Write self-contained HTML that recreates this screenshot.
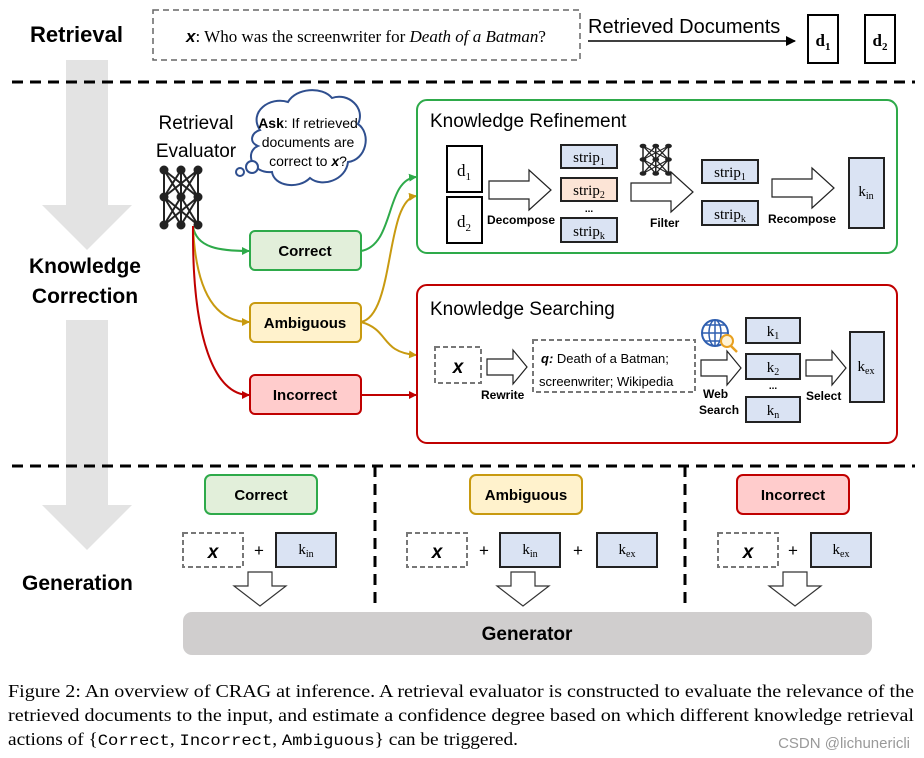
<!DOCTYPE html>
<html><head><meta charset="utf-8"><style>
body{margin:0;background:#fff;}
svg{display:block;font-family:"Liberation Sans",sans-serif;}
.s{font-family:"Liberation Serif",serif;}
</style></head><body>
<svg width="924" height="758" viewBox="0 0 924 758" xmlns="http://www.w3.org/2000/svg">
<defs>
<marker id="ag" markerWidth="8" markerHeight="8" refX="7" refY="4" orient="auto" markerUnits="userSpaceOnUse"><path d="M0,0 L8,4 L0,8 z" fill="#2eaa4a"/></marker>
<marker id="ay" markerWidth="8" markerHeight="8" refX="7" refY="4" orient="auto" markerUnits="userSpaceOnUse"><path d="M0,0 L8,4 L0,8 z" fill="#c89a10"/></marker>
<marker id="ar" markerWidth="8" markerHeight="8" refX="7" refY="4" orient="auto" markerUnits="userSpaceOnUse"><path d="M0,0 L8,4 L0,8 z" fill="#c00000"/></marker>
<marker id="ak" markerWidth="10" markerHeight="10" refX="9" refY="5" orient="auto" markerUnits="userSpaceOnUse"><path d="M0,0 L10,5 L0,10 z" fill="#000"/></marker>
<g id="harrow"><path d="M0,-9 L40,-9 L40,-20 L62,0 L40,20 L40,9 L0,9 z" fill="#fff" stroke="#222" stroke-width="1.2"/></g>
<g id="sarrow"><path d="M0,-8 L26,-8 L26,-17 L40,0 L26,17 L26,8 L0,8 z" fill="#fff" stroke="#222" stroke-width="1.2"/></g>
<g id="darrow"><path d="M-12,0 L12,0 L12,14 L26,14 L0,34 L-26,14 L-12,14 z" fill="#fff" stroke="#333" stroke-width="1.2"/></g>
<g id="net" stroke="#222" stroke-width="2" fill="#222">
<path d="M0,0 L0,55 M17,0 L17,55 M34,0 L34,55 M0,0 L17,27 L34,0 M0,0 L34,27 M34,0 L0,27 M0,27 L17,55 L34,27 M0,27 L34,55 M34,27 L0,55 M17,0 L0,27 M17,0 L34,27 M0,55 L17,27 L34,55" fill="none"/>
<circle cx="0" cy="0" r="3.5"/><circle cx="17" cy="0" r="3.5"/><circle cx="34" cy="0" r="3.5"/>
<circle cx="0" cy="27" r="3.5"/><circle cx="17" cy="27" r="3.5"/><circle cx="34" cy="27" r="3.5"/>
<circle cx="0" cy="55" r="3.5"/><circle cx="17" cy="55" r="3.5"/><circle cx="34" cy="55" r="3.5"/>
</g>
</defs>

<path d="M66,60 L108,60 L108,205 L132,205 L87,250 L42,205 L66,205 z" fill="#e3e3e3"/>
<path d="M66,320 L108,320 L108,505 L132,505 L87,550 L42,505 L66,505 z" fill="#e3e3e3"/>

<text x="30" y="42" font-size="22" font-weight="bold">Retrieval</text>
<text x="85" y="273" font-size="21" font-weight="bold" text-anchor="middle">Knowledge</text>
<text x="85" y="303" font-size="21" font-weight="bold" text-anchor="middle">Correction</text>
<text x="22" y="590" font-size="21" font-weight="bold">Generation</text>

<rect x="153" y="10" width="427" height="50" fill="#fff" stroke="#666" stroke-width="1.5" stroke-dasharray="6,4"/>
<text x="366" y="42" font-size="17" text-anchor="middle" class="s"><tspan font-weight="bold" font-style="italic" font-family="Liberation Sans">x</tspan>: Who was the screenwriter for <tspan font-style="italic">Death of a Batman</tspan>?</text>
<text x="588" y="33" font-size="20">Retrieved Documents</text>
<line x1="588" y1="41" x2="795" y2="41" stroke="#000" stroke-width="1.5" marker-end="url(#ak)"/>
<rect x="808" y="15" width="30" height="48" fill="#fff" stroke="#000" stroke-width="2"/>
<text x="823" y="46" font-size="17" font-weight="bold" text-anchor="middle" class="s">d<tspan font-size="11" dy="4">1</tspan></text>
<rect x="865" y="15" width="30" height="48" fill="#fff" stroke="#000" stroke-width="2"/>
<text x="880" y="46" font-size="17" font-weight="bold" text-anchor="middle" class="s">d<tspan font-size="11" dy="4">2</tspan></text>

<line x1="12" y1="82" x2="915" y2="82" stroke="#000" stroke-width="3" stroke-dasharray="11,7"/>
<line x1="12" y1="466" x2="915" y2="466" stroke="#000" stroke-width="3" stroke-dasharray="11,7"/>
<line x1="375" y1="466" x2="375" y2="610" stroke="#000" stroke-width="3" stroke-dasharray="11,7"/>
<line x1="685" y1="466" x2="685" y2="610" stroke="#000" stroke-width="3" stroke-dasharray="11,7"/>

<text x="196" y="129" font-size="19" text-anchor="middle">Retrieval</text>
<text x="196" y="157" font-size="19" text-anchor="middle">Evaluator</text>
<use href="#net" x="164" y="170"/>

<g transform="translate(30,0)">
<path d="M230,130 C218,112 240,96 258,102 C266,88 292,86 302,98 C318,92 336,108 328,124 C342,134 336,160 318,162 C316,180 292,188 280,178 C268,190 244,186 242,172 C222,174 214,152 228,146 C218,142 222,132 230,130 z" fill="#fff" stroke="#2f4f8f" stroke-width="2"/>
<circle cx="222" cy="167" r="6" fill="#fff" stroke="#2f4f8f" stroke-width="2"/>
<circle cx="210" cy="172" r="4" fill="#fff" stroke="#2f4f8f" stroke-width="2"/>
<text x="278" y="128" font-size="14" text-anchor="middle"><tspan font-weight="bold">Ask</tspan>: If retrieved</text>
<text x="278" y="147" font-size="14" text-anchor="middle">documents are</text>
<text x="278" y="166" font-size="14" text-anchor="middle">correct to <tspan font-weight="bold" font-style="italic">x</tspan>?</text>
</g>

<path d="M193,226 C196,248 220,251 249,251" fill="none" stroke="#2eaa4a" stroke-width="2" marker-end="url(#ag)"/>
<path d="M193,226 C196,300 220,322 249,322" fill="none" stroke="#c89a10" stroke-width="2" marker-end="url(#ay)"/>
<path d="M193,226 C192,340 215,395 249,395" fill="none" stroke="#c00000" stroke-width="2" marker-end="url(#ar)"/>
<path d="M361,251 C395,245 385,180 416,177" fill="none" stroke="#2eaa4a" stroke-width="2" marker-end="url(#ag)"/>
<path d="M361,322 C395,315 385,200 416,196" fill="none" stroke="#c89a10" stroke-width="2" marker-end="url(#ay)"/>
<path d="M361,322 C390,330 380,352 416,355" fill="none" stroke="#c89a10" stroke-width="2" marker-end="url(#ay)"/>
<path d="M361,395 L416,395" fill="none" stroke="#c00000" stroke-width="2" marker-end="url(#ar)"/>

<rect x="250" y="231" width="111" height="39" rx="5" fill="#e2efda" stroke="#2eaa4a" stroke-width="2"/>
<text x="305" y="256" font-size="15" font-weight="bold" text-anchor="middle">Correct</text>
<rect x="250" y="303" width="111" height="39" rx="5" fill="#fff2cc" stroke="#c89a10" stroke-width="2"/>
<text x="305" y="328" font-size="15" font-weight="bold" text-anchor="middle">Ambiguous</text>
<rect x="250" y="375" width="111" height="39" rx="5" fill="#ffcccc" stroke="#c00000" stroke-width="2"/>
<text x="305" y="400" font-size="15" font-weight="bold" text-anchor="middle">Incorrect</text>

<rect x="417" y="100" width="480" height="153" rx="10" fill="none" stroke="#2eaa4a" stroke-width="2"/>
<text x="430" y="127" font-size="19">Knowledge Refinement</text>
<rect x="447" y="146" width="35" height="46" fill="#fff" stroke="#000" stroke-width="2"/>
<text x="464" y="176" font-size="17" text-anchor="middle" class="s">d<tspan font-size="11" dy="4">1</tspan></text>
<rect x="447" y="197" width="35" height="46" fill="#fff" stroke="#000" stroke-width="2"/>
<text x="464" y="227" font-size="17" text-anchor="middle" class="s">d<tspan font-size="11" dy="4">2</tspan></text>
<use href="#harrow" x="489" y="190"/>
<text x="487" y="224" font-size="12" font-weight="bold">Decompose</text>
<rect x="561" y="145" width="56" height="23" fill="#dae3f3" stroke="#222" stroke-width="2"/>
<text x="589" y="162" font-size="15" text-anchor="middle" class="s">strip<tspan font-size="10" dy="3">1</tspan></text>
<rect x="561" y="178" width="56" height="23" fill="#fce4d6" stroke="#222" stroke-width="2"/>
<text x="589" y="195" font-size="15" text-anchor="middle" class="s">strip<tspan font-size="10" dy="3">2</tspan></text>
<text x="589" y="212" font-size="10" font-weight="bold" text-anchor="middle">...</text>
<rect x="561" y="218" width="56" height="24" fill="#dae3f3" stroke="#222" stroke-width="2"/>
<text x="589" y="236" font-size="15" text-anchor="middle" class="s">strip<tspan font-size="10" dy="3">k</tspan></text>
<g transform="translate(643,146) scale(0.75,0.5)"><use href="#net"/></g>
<use href="#harrow" x="631" y="192"/>
<text x="650" y="227" font-size="12" font-weight="bold">Filter</text>
<rect x="702" y="160" width="56" height="23" fill="#dae3f3" stroke="#222" stroke-width="2"/>
<text x="730" y="177" font-size="15" text-anchor="middle" class="s">strip<tspan font-size="10" dy="3">1</tspan></text>
<rect x="702" y="201" width="56" height="24" fill="#dae3f3" stroke="#222" stroke-width="2"/>
<text x="730" y="219" font-size="15" text-anchor="middle" class="s">strip<tspan font-size="10" dy="3">k</tspan></text>
<use href="#harrow" x="772" y="188"/>
<text x="768" y="223" font-size="12" font-weight="bold">Recompose</text>
<rect x="849" y="158" width="35" height="70" fill="#dae3f3" stroke="#222" stroke-width="2"/>
<text x="866" y="196" font-size="15" text-anchor="middle" class="s">k<tspan font-size="10" dy="3">in</tspan></text>

<rect x="417" y="285" width="480" height="158" rx="10" fill="none" stroke="#c00000" stroke-width="2"/>
<text x="430" y="315" font-size="19">Knowledge Searching</text>
<rect x="435" y="347" width="46" height="36" fill="#fff" stroke="#777" stroke-width="2" stroke-dasharray="5,3"/>
<text x="458" y="373" font-size="19" font-weight="bold" font-style="italic" text-anchor="middle">x</text>
<use href="#sarrow" x="487" y="367"/>
<text x="481" y="399" font-size="12" font-weight="bold">Rewrite</text>
<rect x="533" y="340" width="162" height="52" fill="#fff" stroke="#777" stroke-width="2" stroke-dasharray="5,3"/>
<text x="541" y="363" font-size="13"><tspan font-weight="bold" font-style="italic">q:</tspan>  Death of a Batman;</text>
<text x="539" y="386" font-size="13">screenwriter; Wikipedia</text>
<circle cx="715" cy="333" r="13" fill="#fff" stroke="#2f5fb0" stroke-width="2"/>
<path d="M702,333 H728 M715,320 V346 M705,325 H725 M705,341 H725" stroke="#2f5fb0" stroke-width="1.5" fill="none"/>
<ellipse cx="715" cy="333" rx="6" ry="13" fill="none" stroke="#2f5fb0" stroke-width="1.5"/>
<circle cx="727" cy="341" r="6" fill="#fff3d6" stroke="#e8a020" stroke-width="2"/>
<line x1="731" y1="346" x2="737" y2="352" stroke="#e8a020" stroke-width="2.5"/>
<use href="#sarrow" x="701" y="368"/>
<text x="703" y="398" font-size="12" font-weight="bold">Web</text>
<text x="699" y="414" font-size="12" font-weight="bold">Search</text>
<rect x="746" y="318" width="54" height="25" fill="#dae3f3" stroke="#222" stroke-width="2"/>
<text x="773" y="336" font-size="15" text-anchor="middle" class="s">k<tspan font-size="10" dy="3">1</tspan></text>
<rect x="746" y="354" width="54" height="25" fill="#dae3f3" stroke="#222" stroke-width="2"/>
<text x="773" y="372" font-size="15" text-anchor="middle" class="s">k<tspan font-size="10" dy="3">2</tspan></text>
<text x="773" y="389" font-size="10" font-weight="bold" text-anchor="middle">...</text>
<rect x="746" y="397" width="54" height="25" fill="#dae3f3" stroke="#222" stroke-width="2"/>
<text x="773" y="415" font-size="15" text-anchor="middle" class="s">k<tspan font-size="10" dy="3">n</tspan></text>
<use href="#sarrow" x="806" y="368"/>
<text x="806" y="400" font-size="12" font-weight="bold">Select</text>
<rect x="850" y="332" width="34" height="70" fill="#dae3f3" stroke="#222" stroke-width="2"/>
<text x="866" y="371" font-size="15" text-anchor="middle" class="s">k<tspan font-size="10" dy="3">ex</tspan></text>

<rect x="205" y="475" width="112" height="39" rx="6" fill="#e2efda" stroke="#2eaa4a" stroke-width="2"/>
<text x="261" y="500" font-size="15" font-weight="bold" text-anchor="middle">Correct</text>
<rect x="470" y="475" width="112" height="39" rx="6" fill="#fff2cc" stroke="#c89a10" stroke-width="2"/>
<text x="526" y="500" font-size="15" font-weight="bold" text-anchor="middle">Ambiguous</text>
<rect x="737" y="475" width="112" height="39" rx="6" fill="#ffcccc" stroke="#c00000" stroke-width="2"/>
<text x="793" y="500" font-size="15" font-weight="bold" text-anchor="middle">Incorrect</text>

<g font-size="17">
<rect x="183" y="533" width="60" height="34" fill="#fff" stroke="#777" stroke-width="2" stroke-dasharray="5,3"/>
<text x="213" y="558" font-size="19" font-weight="bold" font-style="italic" text-anchor="middle">x</text>
<text x="259" y="556" text-anchor="middle">+</text>
<rect x="276" y="533" width="60" height="34" fill="#dae3f3" stroke="#222" stroke-width="2"/>
<text x="306" y="554" font-size="15" text-anchor="middle" class="s">k<tspan font-size="10" dy="3">in</tspan></text>
<rect x="407" y="533" width="60" height="34" fill="#fff" stroke="#777" stroke-width="2" stroke-dasharray="5,3"/>
<text x="437" y="558" font-size="19" font-weight="bold" font-style="italic" text-anchor="middle">x</text>
<text x="484" y="556" text-anchor="middle">+</text>
<rect x="500" y="533" width="60" height="34" fill="#dae3f3" stroke="#222" stroke-width="2"/>
<text x="530" y="554" font-size="15" text-anchor="middle" class="s">k<tspan font-size="10" dy="3">in</tspan></text>
<text x="578" y="556" text-anchor="middle">+</text>
<rect x="597" y="533" width="60" height="34" fill="#dae3f3" stroke="#222" stroke-width="2"/>
<text x="627" y="554" font-size="15" text-anchor="middle" class="s">k<tspan font-size="10" dy="3">ex</tspan></text>
<rect x="718" y="533" width="60" height="34" fill="#fff" stroke="#777" stroke-width="2" stroke-dasharray="5,3"/>
<text x="748" y="558" font-size="19" font-weight="bold" font-style="italic" text-anchor="middle">x</text>
<text x="793" y="556" text-anchor="middle">+</text>
<rect x="811" y="533" width="60" height="34" fill="#dae3f3" stroke="#222" stroke-width="2"/>
<text x="841" y="554" font-size="15" text-anchor="middle" class="s">k<tspan font-size="10" dy="3">ex</tspan></text>
</g>
<use href="#darrow" x="260" y="572"/>
<use href="#darrow" x="523" y="572"/>
<use href="#darrow" x="795" y="572"/>

<rect x="183" y="612" width="689" height="43" rx="9" fill="#d0cece"/>
<text x="527" y="640" font-size="19" font-weight="bold" text-anchor="middle">Generator</text>

<g font-size="18" font-family="Liberation Serif">
<text x="8" y="697" textLength="906" lengthAdjust="spacingAndGlyphs">Figure 2: An overview of CRAG at inference. A retrieval evaluator is constructed to evaluate the relevance of the</text>
<text x="8" y="721" textLength="906" lengthAdjust="spacingAndGlyphs">retrieved documents to the input, and estimate a confidence degree based on which different knowledge retrieval</text>
<text x="8" y="745" textLength="510" lengthAdjust="spacingAndGlyphs">actions of {<tspan font-family="Liberation Mono" font-size="16">Correct</tspan>, <tspan font-family="Liberation Mono" font-size="16">Incorrect</tspan>, <tspan font-family="Liberation Mono" font-size="16">Ambiguous</tspan>} can be triggered.</text>
</g>
<text x="910" y="748" font-size="15" fill="#999" text-anchor="end">CSDN @lichunericli</text>
</svg>
</body></html>
